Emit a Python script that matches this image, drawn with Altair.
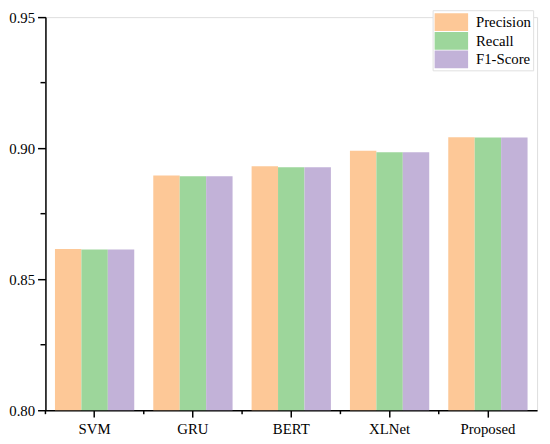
import altair as alt
import pandas as pd

models = ["SVM", "GRU", "BERT", "XLNet", "Proposed"]
metrics = ["Precision", "Recall", "F1-Score"]
precision = [0.8615, 0.8896, 0.8931, 0.8990, 0.9042]
recall = [0.8613, 0.8893, 0.8927, 0.8984, 0.9041]
f1 = [0.8613, 0.8893, 0.8927, 0.8984, 0.9041]
colors = ["#FDC897", "#9DD69B", "#C2B2D8"]
y_ticks = [0.80, 0.85, 0.90, 0.95]
y_minor = [0.825, 0.875, 0.925]

rows = []
for i, m in enumerate(models):
    for met, vals in zip(metrics, [precision, recall, f1]):
        rows.append({"model": m, "metric": met, "value": vals[i]})
df = pd.DataFrame(rows)

FONT = "Liberation Serif"
W, H = 499, 399

xscale = alt.Scale(domain=models, paddingInner=0, paddingOuter=0)
yscale = alt.Scale(domain=[0.80, 0.95], nice=False, zero=False)

bars = alt.Chart(df).mark_bar(opacity=1).encode(
    x=alt.X("model:N", scale=xscale, sort=models,
            axis=alt.Axis(title=None, labelAngle=0, labelFont=FONT, labelFontSize=15,
                          labelColor="black", domainColor="black", domainWidth=1.5,
                          tickColor="black", tickWidth=1.5, tickSize=7, labelPadding=5)),
    xOffset=alt.XOffset("metric:N", sort=metrics,
                        scale=alt.Scale(domain=metrics, paddingInner=0, paddingOuter=0.36)),
    y=alt.Y("value:Q", scale=yscale,
            axis=alt.Axis(title=None, values=y_ticks, format=".2f", grid=False,
                          labelFont=FONT, labelFontSize=15, labelColor="black",
                          domainColor="black", domainWidth=1.5, tickColor="black",
                          tickWidth=1.5, tickSize=8, labelPadding=3)),
    y2=alt.datum(0.80),
    color=alt.Color("metric:N", sort=metrics,
                    scale=alt.Scale(domain=metrics, range=colors),
                    legend=alt.Legend(title=None, orient="none", legendX=393, legendY=-7,
                                      symbolType="M-1.7,-0.9H1.7V0.9H-1.7Z", symbolSize=400,
                                      symbolOffset=7, symbolStrokeWidth=0,
                                      labelFont=FONT, labelFontSize=15,
                                      labelColor="black", labelOffset=15, rowPadding=0,
                                      padding=2, strokeColor="#e0e0e0", fillColor="white")),
)

ymin_df = pd.DataFrame({"v": y_minor})
yminor = alt.Chart(ymin_df).mark_rule(color="black", strokeWidth=1.5).encode(
    y=alt.Y("v:Q", scale=yscale),
    x=alt.value(-5), x2=alt.value(0),
)

xmin_df = pd.DataFrame({"model": models})
xminor = alt.Chart(xmin_df).mark_rule(color="black", strokeWidth=1.5).encode(
    x=alt.X("model:N", scale=xscale, sort=models, bandPosition=0),
    y=alt.value(H), y2=alt.value(H + 4),
)

chart = alt.layer(bars, yminor, xminor).properties(
    width=W, height=H,
    autosize=alt.AutoSizeParams(type="none"),
    padding={"left": 38, "top": 6, "right": 5, "bottom": 30},
).configure_view(stroke=None).configure(background="white")

chart.save("out.html", embed_options={"renderer": "svg", "actions": False})
